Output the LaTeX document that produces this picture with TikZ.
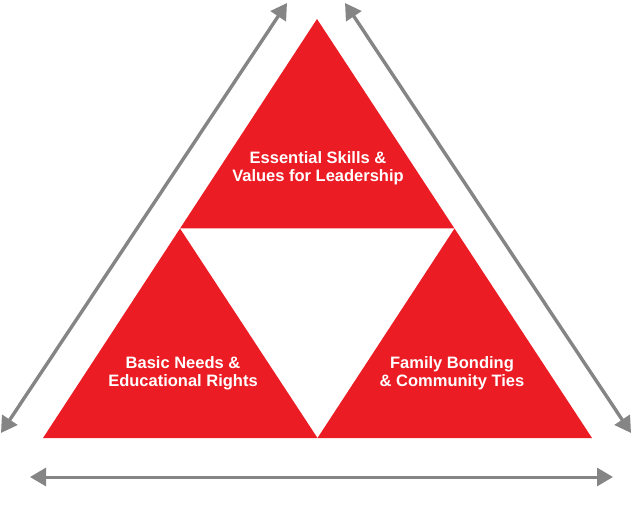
\documentclass[tikz,border=0pt]{standalone}
\usepackage{fontspec}
\setmainfont{Liberation Sans}
\usetikzlibrary{arrows.meta,calc}
\definecolor{tred}{RGB}{236,28,36}
\definecolor{agray}{RGB}{133,133,133}
\tikzset{
  redtri/.style={fill=tred, draw=none},
  garrow/.style={draw=agray, line width=3.4pt, {Triangle[length=16pt,width=18pt]}-{Triangle[length=16pt,width=18pt]}},
  lbl/.style={text=white, font=\fontsize{16.5}{18}\selectfont\bfseries, align=center, inner sep=0pt}
}
\begin{document}
\begin{tikzpicture}[x=1pt,y=-1pt]
\useasboundingbox (0,0) rectangle (631,521);
% main triangle vertices
\coordinate (A) at (317,19);
\coordinate (B) at (43,438);
\coordinate (C) at (592,438);
\coordinate (AB) at ($(A)!0.5!(B)$);
\coordinate (AC) at ($(A)!0.5!(C)$);
\coordinate (BC) at ($(B)!0.5!(C)$);
\fill[redtri] (A) -- (AB) -- (AC) -- cycle;
\fill[redtri] (AB) -- (B) -- (BC) -- cycle;
\fill[redtri] (AC) -- (BC) -- (C) -- cycle;
% arrows
\coordinate (l1) at (1,433);
\coordinate (l2) at (287,3);
\coordinate (r1) at (345,3);
\coordinate (r2) at (631,433);
\coordinate (h1) at (30,477);
\coordinate (h2) at (613,477);
\draw[garrow] (l1) -- (l2);
\draw[garrow] (r1) -- (r2);
\draw[garrow, line width=3pt] (h1) -- (h2);
% labels
\node[lbl] (top) at (318,168) {Essential Skills \&\\Values for Leadership};
\node[lbl] (left) at (183,373) {Basic Needs \&\\Educational Rights};
\node[lbl] (right) at (452,373) {Family Bonding\\\& Community Ties};
\end{tikzpicture}
\end{document}
